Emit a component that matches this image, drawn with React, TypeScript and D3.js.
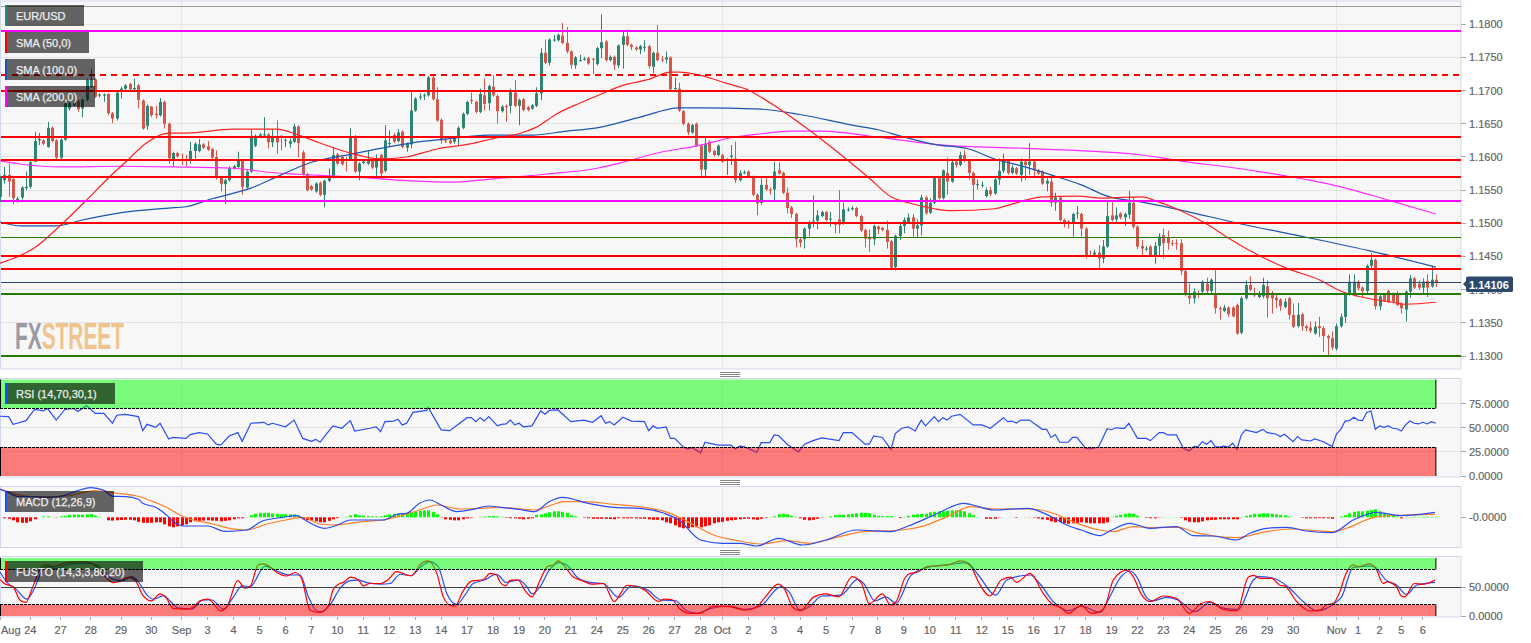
import * as d3 from "d3";

// prices are in pips: 1541 means 1.1541. each candle is [open, high, low, close]
const augCandles = [
  [1540,1572,1532,1570],[1565,1585,1560,1573],[1573,1590,1540,1563],[1567,1570,1529,1538],[1535,1540,1531,1537],[1539,1556,1536,1554],[1553,1578,1550,1555],
  [1555,1595,1552,1592],[1593,1638,1592,1624],[1625,1636,1618,1627],[1625,1627,1618,1620],[1615,1653,1614,1644],[1644,1646,1622,1624],[1625,1627,1595,1599],
  [1599,1628,1597,1626],[1626,1683,1624,1681],[1673,1683,1670,1681],[1678,1686,1676,1683],[1684,1686,1668,1672],[1673,1688,1660,1686],[1686,1718,1684,1716],
  [1706,1733,1704,1717],[1717,1719,1689,1691],[1693,1696,1690,1694],[1693,1696,1683,1694],[1695,1696,1663,1666],[1666,1668,1651,1658],[1658,1699,1655,1697],
  [1698,1706,1688,1703],[1703,1710,1701,1708],[1710,1712,1700,1702],[1702,1718,1701,1704],[1708,1710,1673,1686],[1685,1687,1641,1643],[1647,1679,1641,1677],
  [1676,1677,1660,1663],[1665,1677,1658,1663],[1663,1689,1661,1683],[1683,1685,1643,1650],[1650,1652,1590,1598],[1596,1608,1585,1606],[1606,1608,1599,1601],
];
const sepCandles = [
  [1597,1605,1588,1596],[1596,1603,1586,1595],[1596,1623,1590,1609],[1609,1622,1597,1620],[1609,1627,1607,1619],[1619,1621,1612,1614],
  [1616,1624,1609,1611],[1612,1614,1595,1599],[1600,1610,1566,1568],[1569,1571,1548,1559],[1559,1567,1529,1565],[1565,1586,1563,1583],
  [1583,1588,1581,1586],[1585,1608,1583,1594],[1595,1597,1543,1555],[1554,1580,1552,1578],[1578,1641,1576,1632],[1617,1634,1615,1632],
  [1632,1636,1630,1634],[1633,1660,1631,1634],[1634,1636,1613,1622],[1622,1642,1615,1631],[1631,1655,1605,1622],[1632,1633,1610,1631],
  [1625,1628,1615,1626],[1620,1628,1614,1624],[1623,1650,1621,1646],[1646,1648,1600,1621],[1607,1610,1572,1574],[1574,1576,1548,1550],
  [1556,1558,1549,1551],[1548,1562,1546,1560],[1561,1563,1541,1543],[1543,1566,1524,1564],[1564,1583,1562,1568],[1570,1615,1568,1603],
  [1604,1606,1588,1590],[1600,1602,1587,1589],[1596,1600,1578,1595],[1596,1643,1594,1629],[1630,1633,1576,1578],[1578,1592,1565,1590],
  [1591,1595,1589,1593],[1590,1610,1588,1595],[1596,1598,1582,1584],[1584,1604,1568,1596],[1603,1605,1570,1575],[1579,1648,1577,1625],
  [1620,1640,1615,1621],[1633,1636,1621,1623],[1624,1642,1622,1637],[1638,1640,1613,1615],[1614,1622,1608,1620],[1619,1698,1613,1670],
  [1670,1690,1668,1688],[1690,1696,1686,1691],[1692,1696,1686,1693],[1693,1722,1691,1720],[1720,1723,1685,1687],[1687,1705,1653,1655],
  [1656,1658,1620,1625],[1625,1630,1621,1624],[1625,1627,1619,1621],[1623,1631,1620,1629],[1629,1646,1617,1644],[1644,1667,1642,1665],
  [1665,1685,1663,1683],[1686,1697,1680,1685],[1683,1685,1666,1668],[1668,1703,1666,1695],[1693,1718,1670,1680],[1681,1709,1670,1707],
  [1706,1723,1691,1693],[1692,1694,1650,1669],[1669,1678,1667,1676],[1677,1679,1653,1675],[1677,1703,1666,1698],[1697,1716,1675,1677],
  [1677,1688,1648,1686],[1687,1689,1669,1671],[1675,1677,1669,1671],[1673,1680,1671,1678],[1677,1705,1675,1696],[1696,1764,1686,1757],
  [1757,1777,1740,1742],[1742,1779,1738,1777],[1776,1784,1774,1777],[1776,1786,1774,1784],[1783,1802,1770,1772],[1772,1796,1756,1759],
  [1759,1761,1733,1739],[1738,1752,1733,1750],[1745,1754,1744,1746],[1747,1751,1745,1748],[1749,1751,1739,1741],[1748,1749,1725,1747],
  [1740,1766,1738,1764],[1764,1815,1749,1773],[1774,1776,1744,1746],[1746,1753,1744,1751],[1751,1753,1731,1739],[1738,1770,1734,1768],
  [1769,1791,1733,1782],[1782,1792,1767,1769],[1769,1771,1761,1766],[1765,1767,1760,1762],[1762,1769,1755,1767],[1765,1776,1759,1766],
  [1767,1769,1733,1737],[1736,1759,1726,1757],[1757,1799,1744,1746],[1747,1752,1743,1746],[1747,1759,1741,1750],[1750,1752,1700,1702],
  [1703,1720,1700,1704],[1703,1712,1668,1670],[1669,1671,1648,1650],[1650,1652,1633,1637],[1637,1650,1635,1648],
];
const octCandles = [
  [1650,1652,1615,1617],[1617,1619,1570,1581],[1581,1629,1570,1620],[1623,1625,1606,1608],[1609,1611,1601,1603],[1603,1619,1601,1617],
  [1603,1605,1591,1593],[1596,1598,1573,1597],[1600,1618,1588,1602],[1598,1623,1561,1565],[1565,1580,1563,1576],[1576,1580,1574,1577],
  [1578,1580,1568,1570],[1570,1572,1541,1543],[1543,1545,1512,1530],[1531,1568,1528,1558],[1558,1568,1549,1551],[1551,1554,1543,1550],
  [1551,1593,1535,1578],[1580,1592,1573,1575],[1576,1578,1544,1546],[1546,1554,1515,1523],[1524,1526,1508,1514],[1514,1516,1464,1476],
  [1476,1478,1464,1471],[1476,1494,1462,1492],[1492,1504,1480,1502],[1503,1542,1494,1504],[1504,1520,1491,1512],[1511,1519,1509,1517],
  [1517,1519,1503,1505],[1506,1517,1495,1507],[1500,1502,1485,1498],[1506,1550,1485,1498],[1500,1531,1498,1521],[1520,1524,1518,1521],
  [1522,1526,1519,1523],[1523,1525,1509,1511],[1511,1513,1487,1489],[1490,1492,1464,1477],[1478,1491,1457,1476],[1476,1498,1467,1496],
  [1495,1497,1484,1491],[1493,1495,1488,1490],[1490,1504,1462,1472],[1473,1475,1431,1433],[1434,1483,1429,1481],[1481,1500,1475,1496],
  [1496,1509,1485,1505],[1502,1515,1500,1509],[1509,1514,1480,1492],[1492,1506,1479,1497],[1497,1543,1482,1539],[1539,1541,1513,1515],
  [1516,1538,1514,1531],[1531,1571,1529,1568],[1568,1570,1536,1538],[1538,1581,1536,1580],[1576,1599,1543,1563],[1563,1594,1561,1592],
  [1593,1595,1584,1588],[1588,1608,1586,1603],[1603,1610,1592,1594],[1594,1596,1566,1576],[1576,1578,1535,1558],[1558,1566,1551,1559],
  [1557,1563,1554,1558],[1541,1554,1539,1550],[1550,1555,1541,1544],[1545,1568,1543,1566],[1566,1598,1558,1579],[1579,1605,1576,1594],
  [1594,1596,1573,1576],[1576,1588,1574,1584],[1583,1585,1573,1575],[1573,1598,1563,1593],[1593,1595,1565,1588],[1588,1621,1573,1593],
  [1593,1595,1570,1580],[1580,1582,1573,1575],[1578,1580,1558,1560],[1560,1568,1548,1564],[1563,1570,1525,1531],[1531,1546,1519,1539],
  [1539,1541,1503,1505],[1505,1507,1494,1500],[1503,1505,1492,1502],[1499,1516,1480,1514],[1515,1526,1507,1516],[1514,1516,1480,1492],
  [1492,1494,1447,1451],[1452,1459,1450,1451],[1453,1460,1451,1456],[1456,1467,1432,1447],[1447,1475,1440,1465],[1465,1533,1463,1511],
  [1512,1533,1503,1505],[1506,1524,1502,1512],[1515,1517,1506,1509],[1509,1516,1496,1514],[1513,1549,1507,1531],[1531,1540,1492,1495],
  [1495,1497,1461,1465],[1466,1475,1452,1462],[1461,1466,1458,1462],[1465,1467,1450,1452],[1452,1472,1439,1466],[1466,1485,1452,1480],
  [1482,1492,1447,1470],[1479,1489,1460,1470],[1470,1475,1466,1469],[1470,1476,1460,1469],[1470,1476,1422,1428],[1428,1430,1390,1392],
  [1391,1409,1378,1387],[1387,1402,1379,1397],[1395,1399,1388,1394],[1397,1414,1395,1412],[1409,1418,1394,1398],[1398,1417,1393,1415],
  [1394,1431,1364,1372],[1372,1375,1355,1371],[1368,1377,1366,1373],[1373,1375,1359,1363],[1373,1375,1358,1360],[1377,1379,1332,1334],
  [1335,1390,1333,1387],[1387,1414,1385,1407],[1407,1420,1398,1400],[1393,1403,1389,1392],[1389,1398,1387,1394],[1390,1418,1387,1407],
  [1405,1414,1358,1387],[1392,1398,1364,1387],[1388,1394,1372,1384],[1385,1387,1368,1375],[1374,1387,1372,1382],[1387,1389,1355,1362],
  [1362,1379,1342,1344],[1345,1380,1343,1362],[1363,1365,1338,1345],[1345,1347,1337,1342],[1343,1352,1335,1338],[1334,1352,1332,1344],
  [1345,1359,1329,1342],[1342,1345,1306,1330],[1330,1332,1301,1327],[1327,1337,1309,1313],
];
const novCandles = [
  [1311,1349,1308,1345],[1345,1364,1343,1359],[1359,1395,1350,1393],[1393,1423,1391,1412],[1392,1423,1390,1412],
  [1412,1414,1399,1402],[1403,1405,1388,1398],[1398,1438,1394,1436],[1436,1455,1432,1445],[1445,1447,1370,1375],
  [1375,1392,1369,1390],[1392,1394,1382,1384],[1398,1400,1380,1382],[1394,1396,1379,1382],[1394,1398,1375,1377],
  [1379,1381,1364,1372],[1370,1399,1352,1397],[1397,1422,1388,1417],[1417,1419,1401,1403],[1409,1414,1400,1403],
  [1403,1417,1394,1412],[1413,1423,1389,1403],[1405,1436,1403,1415],[1415,1423,1404,1410.6],
];
const candles = [...augCandles, ...sepCandles, ...octCandles, ...novCandles];

// moving averages, [bar, pips]
const sma50 = [[0,1440],[8,1463],[14,1497],[20,1535],[25,1568],[29,1592],[34,1622],[39,1636],[43,1636],[54,1642],[64,1642],[69,1633],[74,1621],[81,1606],[88,1597],[94,1600],[101,1612],[108,1619],[115,1629],[120,1635],[124,1645],[129,1666],[134,1681],[138,1692],[144,1708],[150,1717],[155,1728],[157,1728],[162,1723],[168,1711],[173,1701],[176,1690],[187,1641],[196,1595],[201,1568],[206,1540],[210,1531],[216,1522],[220,1519],[230,1522],[234,1529],[241,1540],[249,1541],[255,1538],[264,1540],[268,1532],[273,1519],[279,1499],[284,1478],[291,1452],[298,1431],[305,1415],[310,1398],[314,1390],[322,1381],[325,1378],[332,1381]];
const sma100 = [[0,1502],[5,1496],[13,1496],[19,1505],[27,1515],[39,1523],[43,1525],[49,1537],[58,1553],[65,1573],[72,1592],[81,1604],[88,1613],[95,1621],[103,1627],[113,1633],[123,1633],[131,1639],[138,1644],[148,1660],[157,1674],[161,1674],[176,1672],[185,1664],[197,1648],[203,1641],[208,1632],[216,1619],[224,1612],[230,1597],[237,1585],[243,1573],[250,1558],[256,1541],[264,1532],[273,1520],[287,1499],[302,1479],[317,1458],[332,1434]];
const sma200 = [[0,1594],[5,1589],[14,1585],[28,1586],[40,1585],[54,1583],[62,1577],[69,1574],[81,1570],[88,1567],[95,1564],[105,1562],[114,1567],[126,1574],[138,1583],[144,1592],[152,1606],[162,1618],[169,1629],[176,1635],[183,1639],[190,1639],[203,1630],[218,1618],[237,1613],[264,1603],[272,1595],[289,1580],[310,1555],[321,1535],[332,1514]];

// drawn levels
const redLevels = [1700, 1630, 1595, 1570, 1500, 1450, 1431];
const magentaLevels = [1790, 1534];
const dashedLevels = [1724];
const thickGreenLevels = [1393, 1300];
const thinGreenLevels = [1479];
const topLevel = 1827;
const lastPrice = 1410.6;
const priceTicks = [1800, 1750, 1700, 1650, 1600, 1550, 1500, 1450, 1400, 1350, 1300];

// indicators, [bar, value]
const rsi = [[0,62],[2,61.6],[3,53.6],[4,54.7],[6,57.4],[8,69],[10,67.5],[11,70],[13,58],[15,69],[17,70],[18,67],[20,73],[22,65],[24,65],[26,54.7],[27,63],[29,64],[32,61.6],[33,47],[34,53.6],[36,50.5],[37,54.7],[39,38.4],[40,40],[43,39],[44,43],[46,45],[48,43.6],[50,33],[51,32],[53,41.5],[55,45],[56,36],[58,54.7],[61,55.7],[62,53],[63,54.7],[66,51],[68,58],[70,39],[72,36],[73,38],[74,35],[75.5,43.6],[77,52],[79,49.5],[81,57.4],[82,46.7],[85.5,49.5],[87,51],[88,46],[89,56.4],[91,57],[92,59],[93,53],[94,54.7],[95.5,66],[98.6,68],[99,71],[102,47.8],[104,47],[108,60.5],[109,60.5],[110,56.4],[111,60.5],[112,57],[113,61.6],[115,52],
  [116,53.6],[117,54],[118,58],[119,53],[120,54.7],[121,51],[123,52],[125,67.5],[126,64],[127,68],[129,68.5],[132,56.4],[135,58],[137,55.7],[139,62.6],[140,54.7],[141,56.4],[142,53],[144,61],[146,57],[149,56.4],[150,47],[151,52],[152,49.5],[154,51],[155,39],[156,39],[158,30],[159,28],[160,29.5],[162,24],[163,35],[166,32],[169,32],[170,28],[171,31],[172,30.5],[175,24.6],[176,34.6],[178,34.6],[179,42.6],[180,42],[182,33],[184.6,25],[186,33],[188,36.7],[190,39.5],[194,36.7],[195,45],[197,45],[200,33],[201,33],[202,41.5],[204,40],[206,27.7],[207,44],[208.5,49.5],[210,51],[211.6,46.7],[213,58],[214,52],[216,61.6],[217,56.4],[218,60.5],[219,58],[220,62],[222,64],[225,53],[227,53],[229,49.5],[232,60.5],[233,56.4],[234,57],[235,55],[236,58],[238,58],[241,48.4],[242,48.4],[243,40],[244,43],[245,35],[247,35],[248,40],[249,40],[251,28.7],[252,28],
  [254,30],[256,49],[257,48],[258,50],[260,49.5],[261,54.7],[263,39],[265,39],[266,36.7],[268,45],[269,45],[270,42.6],[272,42.6],[273.6,28.7],[275,26],[276,30.5],[277,30.5],[278,35.6],[279,33],[280,36.7],[281,30.5],[282,30],[283,31],[284,30],[285,34],[286,27.7],[287,42.6],[288,47.8],[290.5,45],[292,48.4],[293,45],[295,43.6],[296,41],[297,43.3],[299,35.6],[300,41],[301,37.4],[303,36.3],[304,38.4],[306,35.6],[308,30.5],[309,43.6],[310,48.4],[311,57],[312,57.4],[313,61],[314,58],[315,57.4],[316,66],[317,67.5],[318,48.4],[319,52],[320,50.5],[321,52],[322,49.5],[323,49],[324,46.7],[325,53],[326,57],[327,54.7],[328,54],[329,55.7],[330,54],[331,56.4],[332,54.7]];

// macd in 0.0001 units
const macdLine = [[0,28],[2,24.7],[4,21],[7,20.7],[11.5,20],[15,22],[18,26.7],[21,29.7],[24,27],[26,21],[29,20.7],[32,18],[33,14],[36,10],[38.5,2.3],[40,-4],[42.4,-8.7],[48,-8.7],[52,-14],[57,-12.7],[60.5,-4],[65.5,0],[68.6,1.7],[71,-4],[75,-11],[78,-7.7],[81,-2.7],[88.6,-2.7],[92,3.3],[94,4],[97,14],[99.4,17.3],[102,12.3],[105.6,5.7],[109.4,8],[113,11.3],[115.6,10],[120,8],[123.6,5.7],[127,15.7],[130,20],[136,14],[142,10],[148,9],[153.6,4],[157,-2.7],[162,-22.7],[167,-26],[171,-26],[175,-28.7],[180,-21],[185.5,-27.7],[191,-22.7],[198,-12.7],[206,-14.3],[210,-8.7],[216.5,3.3],[222.7,14],[229.8,7.3],[237.7,9],[243,0.7],[246.6,-7.7],[250,-12.7],[254.3,-18.3],[256.6,-13.7],[261.2,-6],[265.9,-11],[272,-9.3],[275.9,-18.3],[280.5,-18.7],[285.9,-22.7],[289,-16],[292.8,-11],[297.5,-10],[302,-13.7],[308,-15.3],[312.9,-2.7],[318.3,5],[323.7,1.7],[331.8,5]];
const macdSignal = [[0,28.3],[4,23],[7.7,20.7],[11.5,20.7],[15.4,21.3],[19,24.7],[23,27.3],[26,24.7],[31.6,21.3],[36,14.7],[38.5,10],[41.6,2.3],[44.7,-2.7],[49.3,-6.7],[53,-11],[57,-12.7],[61.7,-6.7],[66,-2.7],[70,0],[74,-6.7],[77,-7.7],[84,-4.3],[88.6,-2.7],[92.5,1.3],[97,7.3],[101,12.3],[106.4,8.3],[111,9],[115.6,10],[123.6,7.3],[130.6,15.7],[135,15.7],[142,13],[149,10],[154.5,4.7],[159,-4.3],[165,-17.7],[170.5,-23.3],[175.8,-26.7],[182,-23.3],[187,-26],[192.6,-21],[199.7,-14.3],[208.5,-12.7],[213,-9.3],[219,0.7],[224.5,10.7],[230.6,8.3],[238.6,8.3],[244,3.3],[248,-4.3],[254.3,-12.7],[257.4,-14.3],[262,-9.3],[266.6,-10.3],[272.4,-10],[276.6,-15.3],[285.9,-20.3],[292.8,-14.3],[298.2,-11.7],[308.3,-14.3],[311.3,-11],[317.5,-0.3],[322.1,1.7],[331.8,3]];
const macdHist = [
  0,-1,-1.5,-3,-5,-5.5,-5.5,-4,-2,0,.8,1,.3,-.3,1,1.5,2.5,2.8,2.8,2.7,3,3.3,1.5,.5,0,-3,-3.3,-3,-2.7,-2.5,-2.5,-3,-4.5,-5.5,-5.5,-5.5,-5,-5,-7,-9,-10,-9,
  -8,-7,-5,-4,-3.5,-3.3,-3,-3.3,-3.5,-4,-3.5,-3,-2,-1,-1,.3,2,3.5,4.5,4.5,4.5,4,3.5,3,3,3,3,1.5,-2,-3,-3.5,-4,-5,-5,-3.5,-2,-.8,.2,.5,2,3,2,1.5,1.2,1,.8,1,2,3,3.5,3.5,3.5,4,5,6,6.5,7,7,5.5,3,-.3,-2,-2.5,-3,-3,-2,-1,-.5,0,.5,.8,1.2,1.5,1,
  .5,-.5,-1,-1,-1.5,-2,-1.5,-1,2.5,3,4,5,6,6,5.5,4.5,2,1,0,-.5,-1,-1.5,-1.5,-1.5,-1.5,-1.8,-2,-1,-1,-1,-1,-1.2,-1.3,-1.5,-2,-2.5,-2.5,-3,-5,-6,-8,-10,-11,-11,-10,
  -10,-10,-9,-8,-6,-5,-4.5,-3.5,-3,-2.5,-2,-1.5,-1.5,-2,-2.5,-1.5,-.5,.3,1,3,3.5,3,1.5,.5,-1,-2.5,-3,-2.5,-1.5,-.3,.2,1,2,2.5,2.5,3,3.5,4,4.5,4.5,4,2.5,1.5,1,1.2,1.3,0,-.8,.5,1.5,2.5,3,3.5,3.5,5,5.5,6,6,6.5,7,7,7,6,4,2,.3,0,-1.5,-1.5,-1.5,-.3,.1,.1,.1,-.5,.1,.1,-.2,-.5,-1.2,-2,-2.5,-4,-5,-5,-6,-6.5,-6,-5.5,-5,-5.5,-6,-6,-6,-6,-5,
  .5,1.5,2.5,3.5,4,3.5,1.5,0,-.5,-1,-1,-.3,.2,.2,.2,.2,-.5,-3,-4.5,-5,-5,-4,-3,-2.5,-2.5,-2,-2,-2,-2,-2,.2,1.5,2.5,3.5,3.5,4,4,3.5,3,2.5,2,.8,0,0,-.5,-1,-1,-1,-.8,-1,-1,-1.5,
  0,.8,2,4,5.5,6,6,6.5,7,8,6,4.5,3,1.5,.7,-1,.5,.3,.5,.5,.5,.5,.5,.5,
];

const stochFast = [[0,63],[1,56],[3,50.6],[4.6,27.6],[6,23.5],[7.3,45],[9.2,79],[10.8,88],[12.3,85],[15.4,92],[18.5,93.7],[20.8,92],[22.4,85],[24.3,68],[26.2,57.5],[27.4,59],[29.7,66.7],[31.2,62],[33,36],[35,26],[37,38],[38.5,30.5],[40,13],[43,12],[45,17],[46.2,26],[48.2,29],[49.3,22],[51,9],[52.4,15],[55,61],[56.6,48],[57.8,50.6],[59.7,88],[60.9,89.7],[62.4,85],[64,75],[66.3,69],[68.2,75],[69.7,65],[71.7,10],[74,6],[76,19],[77,45],[78.6,56],[79.4,58],[81,67],[82.9,62],[84,52],[85.5,56],[87.9,56],[89.8,63],[91.7,76.4],[95,69.5],[97.5,91],[99,95],[101,73.5],[102.5,33],[104,19],[105.2,17],[107,42],[109,60],[111.8,63],[113.3,73.5],[114.8,70.7],[115.6,59],[116.9,52],[118,62],[119.8,62],[121.3,45],[123,33],[124.9,62],[126.7,86],[128,88],[129,95],[130.6,85],[132.4,68],[134.6,61],[136.8,55],[139.5,56],[142,25],[145,53],[149,45],[152.3,25],[153.6,29],[155.4,28],[157.2,12],[159.4,4.6],[161.6,4.6],[165.2,17],[168.7,16],[172.2,10],[174.9,15],[176.7,30.5],[180,55],[181.5,45],[183.3,15],[185,9],[188.2,33],[190.8,38],[193.9,33],[197,68],[199.2,56],[201,21],[204,38],[205.9,19],[207.2,25],[209.2,65],[210.7,74],[212,75],[214.3,85],[219.1,88],[222.2,95],[224.5,85],[226.2,59],[228.9,34.5],[231.5,62],[233.7,67],[235,58],[238.2,73.6],[241.2,39],[243.5,19],[245.2,15],[247,4.6],[250,18],[252.3,4.6],[254.3,7.5],[255.5,16],[257.4,62],[260.5,79],[262,68],[264,36],[265.9,25],[269,34.5],[272,30.5],[275,4.6],[277.8,22],[279.7,25],[282.8,11.5],[286,9],[288.6,67],[289.9,70],[291.3,65],[294,65],[296,53],[297,52],[299.8,25],[302.9,8.6],[305.2,10],[306.7,19],[308.3,22],[309.8,42],[311.1,71],[312.9,88],[314,85],[316.7,90],[318.3,79],[319.8,56],[320.7,59],[322.9,50.6],[324,34.5],[324.8,33],[327,56],[329,54.6],[331.8,62]];
const stochSlow = [[0,76],[1.5,59],[3.9,45],[6.2,29],[8,48],[9.6,76],[11.2,85],[13,82],[16.2,90],[20.4,91],[23,85],[26.2,63],[28.5,61],[30.4,68],[32,59],[34,36],[35.5,29],[37.8,35],[39.3,26],[41.2,14],[44.3,12],[47,27.6],[49,27.6],[51.6,12],[54,33],[55.9,52],[57.8,50.6],[61.3,86],[64,77.6],[67,70.7],[69.4,70.7],[71.3,33],[73.2,9],[74.4,7.5],[76.3,19],[78.6,47.7],[81,61],[82.9,62],[84.8,57.5],[87.9,55],[90.2,56],[92.5,72],[95,69.5],[97.3,85],[99.4,93.7],[101.3,85],[103.3,39],[105.6,20],[107.5,36],[109.4,56],[112,62],[114.8,72],[115.6,68],[116.9,58],[120,62],[121.8,50.6],[123,38],[124.9,50.6],[127,79],[129.3,92],[131.5,85],[133.7,65],[136.8,57.5],[139.5,56],[143,32],[146,52],[149.7,45],[152.8,27.6],[156.3,26],[158.5,10],[161.2,4.6],[164.3,13],[168.7,17],[172.2,11.5],[175.8,17],[180.6,50.6],[182.4,42],[185,10],[187.3,17],[190,34.5],[194.4,36],[198.3,63],[199.7,56],[202.3,26],[204.8,33],[207.2,22],[210.7,70.7],[215.2,85],[219.1,88],[223.6,92],[226.2,70.7],[230.2,36],[232.9,63],[238.2,70.7],[240.4,56],[243.5,25],[247,9],[250,17],[254.3,6],[256.6,33],[258.9,65],[261.2,77.6],[262.8,68],[265,33],[266.6,26],[269.7,32],[272.4,27.6],[276.3,7.5],[279.7,23.6],[283.2,13],[286.3,11.5],[289.8,62],[290.9,68],[294,66],[297.8,50.6],[301.3,25],[304.4,9],[308.6,22],[310.2,33],[312.9,84],[317.5,86],[320.6,61],[322.9,53.4],[325.2,37],[327.5,53],[331.8,58]];

const dateLabels = ["Aug","24","27","28","29","30","Sep","3","4","5","6","7","10","11","12","13","14","17","18","19","20","21","24","25","26","27","28","Oct","2","3","4","5","7","8","9","10","11","12","15","16","17","18","19","22","23","24","25","26","29","30","Nov","1","2","5","6"];
const dateBars = [2,7,14,21,28,35,42,48,54,60,66,72,78,84,90,96,102,108,114,120,126,132,138,144,150,156,162,167,173,179,185,191,197,203,209,215,221,227,233,239,245,251,257,263,269,275,281,287,293,299,309,314,319,324,329];
const monthBars = [42, 167, 309];

const legendMain = [["EUR/USD", "#2e8b73", 79], ["SMA (50,0)", "#ff0000", 84], ["SMA (100,0)", "#1c55b0", 90], ["SMA (200,0)", "#ff00ff", 90]];

const W = 1531, H = 643;
const plotRight = 1461;
const fontFamily = "'Liberation Sans', Arial, sans-serif";
const GREEN = "#2f8573", RED = "#d3574a";
const BORDER = "#d0d8ec", GRID = "#e4e4e4", TEXT = "#666";

const x = d3.scaleLinear().domain([0, 332]).range([0, 1435.9]);
const yMain = d3.scaleLinear().domain([1300, 1800]).range([356, 24.3]);
const yRsi = d3.scaleLinear().domain([0, 100]).range([476, 379.6]);
const yMacd = d3.scaleLinear().domain([-1, 1]).range([518.3, 516.3]);
const yStoch = d3.scaleLinear().domain([0, 100]).range([616, 558]);

const fmt = (p: number) => (1 + p / 10000).toFixed(4);
// keep thin horizontals on the pixel grid
const crisp = (v: number) => Math.floor(v) + 0.5;

function series(pts: number[][], y: d3.ScaleLinear<number, number>, curve = d3.curveMonotoneX) {
  const line = d3.line<number[]>().x((d) => x(d[0])).y((d) => y(d[1])).curve(curve);
  return line(pts) || "";
}

function Legend({ label, color, top, width }: { label: string; color: string; top: number; width: number }) {
  return (
    <g>
      <rect x={5} y={top} width={width} height={21} fill="#000" fillOpacity={0.6} />
      <rect x={5} y={top} width={2} height={21} fill={color} />
      <text x={16} y={top + 14.5} fontSize={11} fill="#eee" stroke="#eee" strokeWidth={0.25}>{label}</text>
    </g>
  );
}

function Handle({ y }: { y: number }) {
  return (
    <g stroke="#888" strokeWidth={1}>
      {[0, 2, 4].map((d) => <line key={d} x1={720} x2={740} y1={y + d + 0.5} y2={y + d + 0.5} />)}
    </g>
  );
}

function Zones({ y, hi, lo, top, bottom }: { y: d3.ScaleLinear<number, number>; hi: number; lo: number; top: number; bottom: number }) {
  const right = x(332);
  return (
    <g>
      <rect x={0} y={y(top)} width={right} height={y(hi) - y(top)} fill="#00ff00" fillOpacity={0.5} />
      <rect x={0} y={y(lo)} width={right} height={y(bottom) - y(lo)} fill="#ff0000" fillOpacity={0.5} />
      <g stroke="#000" strokeWidth={1}>
        <line x1={0} x2={right} y1={crisp(y(hi))} y2={crisp(y(hi))} strokeDasharray="3 1" />
        <line x1={0} x2={right} y1={crisp(y(lo))} y2={crisp(y(lo))} strokeDasharray="3 1" />
        <line x1={right} x2={right} y1={y(top)} y2={y(hi)} />
        <line x1={right} x2={right} y1={y(lo)} y2={y(bottom)} />
        <line x1={0.5} x2={0.5} y1={y(top)} y2={y(hi)} />
        <line x1={0.5} x2={0.5} y1={y(lo)} y2={y(bottom)} />
      </g>
    </g>
  );
}

function AxisLabel({ y, label }: { y: number; label: string }) {
  return (
    <g>
      <line x1={plotRight} x2={plotRight + 5} y1={crisp(y)} y2={crisp(y)} stroke="#aaa" />
      <text x={1469} y={y + 4} fontSize={11} fill={TEXT} stroke={TEXT} strokeWidth={0.2}>{label}</text>
    </g>
  );
}

export default function App() {
  const panels = [
    { top: 1, bottom: 369 },
    { top: 378.5, bottom: 477 },
    { top: 486.5, bottom: 547.5 },
    { top: 556.5, bottom: 617 },
  ];

  return (
    <svg width={W} height={H} style={{ position: "absolute", left: 0, top: 0 }} fontFamily={fontFamily}>
      <rect width={W} height={H} fill="#fff" />

      {panels.map((p, i) => (
        <rect key={i} x={0.5} y={p.top} width={plotRight - 0.5} height={p.bottom - p.top} fill="#f7f7f7" stroke={BORDER} />
      ))}

      {/* grid */}
      {priceTicks.map((t) => (
        <line key={t} x1={1} x2={plotRight} y1={crisp(yMain(t))} y2={crisp(yMain(t))} stroke={GRID} />
      ))}
      {[75, 50, 25].map((t) => (
        <line key={t} x1={1} x2={plotRight} y1={crisp(yRsi(t))} y2={crisp(yRsi(t))} stroke={GRID} />
      ))}
      {monthBars.map((b) =>
        panels.map((p, i) => (
          <line key={b + "-" + i} x1={crisp(x(b))} x2={crisp(x(b))} y1={p.top} y2={p.bottom} stroke={GRID} />
        ))
      )}

      {/* watermark */}
      <text x={15} y={349} fontSize={36} fontWeight="bold" fontFamily="'Liberation Sans Narrow', 'Liberation Sans', sans-serif" textLength={109} lengthAdjust="spacingAndGlyphs">
        <tspan fill="#9a9aa5">FX</tspan>
        <tspan fill="#f0c48e">STREET</tspan>
      </text>

      {/* candles */}
      {candles.map(([o, h, l, c], i) => {
        const cx = Math.round(x(i));
        const color = c >= o ? GREEN : RED;
        const top = yMain(Math.max(o, c));
        const bodyH = Math.max(Math.abs(yMain(o) - yMain(c)), 1);
        return (
          <g key={i} fill={color}>
            <rect x={cx} y={yMain(h)} width={1} height={yMain(l) - yMain(h)} />
            <rect x={cx - 1} y={top} width={3} height={bodyH} />
          </g>
        );
      })}

      {/* moving averages */}
      <g fill="none" strokeWidth={1.2}>
        <path d={series(sma200, yMain)} stroke="#ff2cff" />
        <path d={series(sma100, yMain)} stroke="#1c55b0" />
        <path d={series(sma50, yMain)} stroke="#f22" />
      </g>

      {/* levels */}
      <line x1={1} x2={plotRight} y1={crisp(yMain(topLevel))} y2={crisp(yMain(topLevel))} stroke="#999" />
      {redLevels.map((l) => <line key={l} x1={1} x2={plotRight} y1={Math.round(yMain(l))} y2={Math.round(yMain(l))} stroke="#ff0000" strokeWidth={2} />)}
      {dashedLevels.map((l) => <line key={l} x1={1} x2={plotRight} y1={Math.round(yMain(l))} y2={Math.round(yMain(l))} stroke="#ff0000" strokeWidth={2} strokeDasharray="6 5" />)}
      {magentaLevels.map((l) => <line key={l} x1={1} x2={plotRight} y1={Math.round(yMain(l))} y2={Math.round(yMain(l))} stroke="#ff00ff" strokeWidth={2} />)}
      {thickGreenLevels.map((l) => <line key={l} x1={1} x2={plotRight} y1={Math.round(yMain(l))} y2={Math.round(yMain(l))} stroke="#267a00" strokeWidth={2} />)}
      {thinGreenLevels.map((l) => <line key={l} x1={1} x2={plotRight} y1={crisp(yMain(l))} y2={crisp(yMain(l))} stroke="#267a00" />)}
      <line x1={1} x2={plotRight} y1={crisp(yMain(lastPrice))} y2={crisp(yMain(lastPrice))} stroke="#2c4468" />

      {/* rsi */}
      <path d={series(rsi, yRsi, d3.curveLinear)} fill="none" stroke="#2a4df0" strokeWidth={1.2} />
      <Zones y={yRsi} hi={70} lo={30} top={100} bottom={0} />

      {/* macd */}
      {macdHist.map((v, i) => {
        const y0 = yMacd(0);
        const y1 = yMacd(v);
        return <rect key={i} x={Math.round(x(i)) - 1} y={Math.min(y0, y1)} width={3} height={Math.abs(y1 - y0)} fill={v >= 0 ? "#00ff00" : "#ff0000"} />;
      })}
      <path d={series(macdSignal, yMacd)} fill="none" stroke="#ff7f27" strokeWidth={1.2} />
      <path d={series(macdLine, yMacd)} fill="none" stroke="#2a4df0" strokeWidth={1.2} />

      {/* stochastic */}
      <path d={series(stochSlow, yStoch)} fill="none" stroke="#2a4df0" strokeWidth={1.2} />
      <path d={series(stochFast, yStoch)} fill="none" stroke="#ff0000" strokeWidth={1.2} />
      <Zones y={yStoch} hi={80} lo={20} top={100} bottom={0} />
      <line x1={1} x2={plotRight} y1={crisp(yStoch(50))} y2={crisp(yStoch(50))} stroke="#444" />

      {/* right axes */}
      {priceTicks.map((t) => <AxisLabel key={t} y={yMain(t)} label={fmt(t)} />)}
      {[75, 50, 25, 0].map((t) => <AxisLabel key={t} y={yRsi(t)} label={t.toFixed(4)} />)}
      <AxisLabel y={yMacd(0)} label="-0.0000" />
      {[50, 0].map((t) => <AxisLabel key={t} y={yStoch(t)} label={t.toFixed(4)} />)}

      {/* last price tag */}
      <path d="M1463,284 L1466,281 L1466,278 Q1466,276.5 1468,276.5 L1511,276.5 Q1513,276.5 1513,278 L1513,290.5 Q1513,292 1511,292 L1468,292 Q1466,292 1466,290.5 L1466,287 Z" fill="#2c4a6e" />
      <text x={1469} y={288.5} fontSize={11} fontWeight="bold" fill="#fff">{(1 + lastPrice / 10000).toFixed(5)}</text>

      {/* time axis */}
      <line x1={x(0) + 0.5} x2={x(0) + 0.5} y1={617} y2={620} stroke="#aaa" />
      {dateBars.map((b, i) => (
        <g key={b}>
          {i > 0 && <line x1={crisp(x(b))} x2={crisp(x(b))} y1={617} y2={620} stroke="#aaa" />}
          <text x={i === 0 ? 1 : x(b)} y={634} fontSize={11} fill={TEXT} stroke={TEXT} strokeWidth={0.2} textAnchor={i === 0 ? "start" : "middle"}>{dateLabels[i]}</text>
        </g>
      ))}

      {/* legends */}
      {legendMain.map((d, i) => (
        <Legend key={i} label={d[0] as string} color={d[1] as string} top={5 + i * 27} width={d[2] as number} />
      ))}
      <Legend label="RSI (14,70,30,1)" color="#1c4df0" top={383} width={110} />
      <Legend label="MACD (12,26,9)" color="#1c4df0" top={491} width={109} />
      <Legend label="FUSTO (14,3,3,80,20)" color="#ff0000" top={561} width={138} />

      <Handle y={372} />
      <Handle y={480} />
      <Handle y={550} />
    </svg>
  );
}
